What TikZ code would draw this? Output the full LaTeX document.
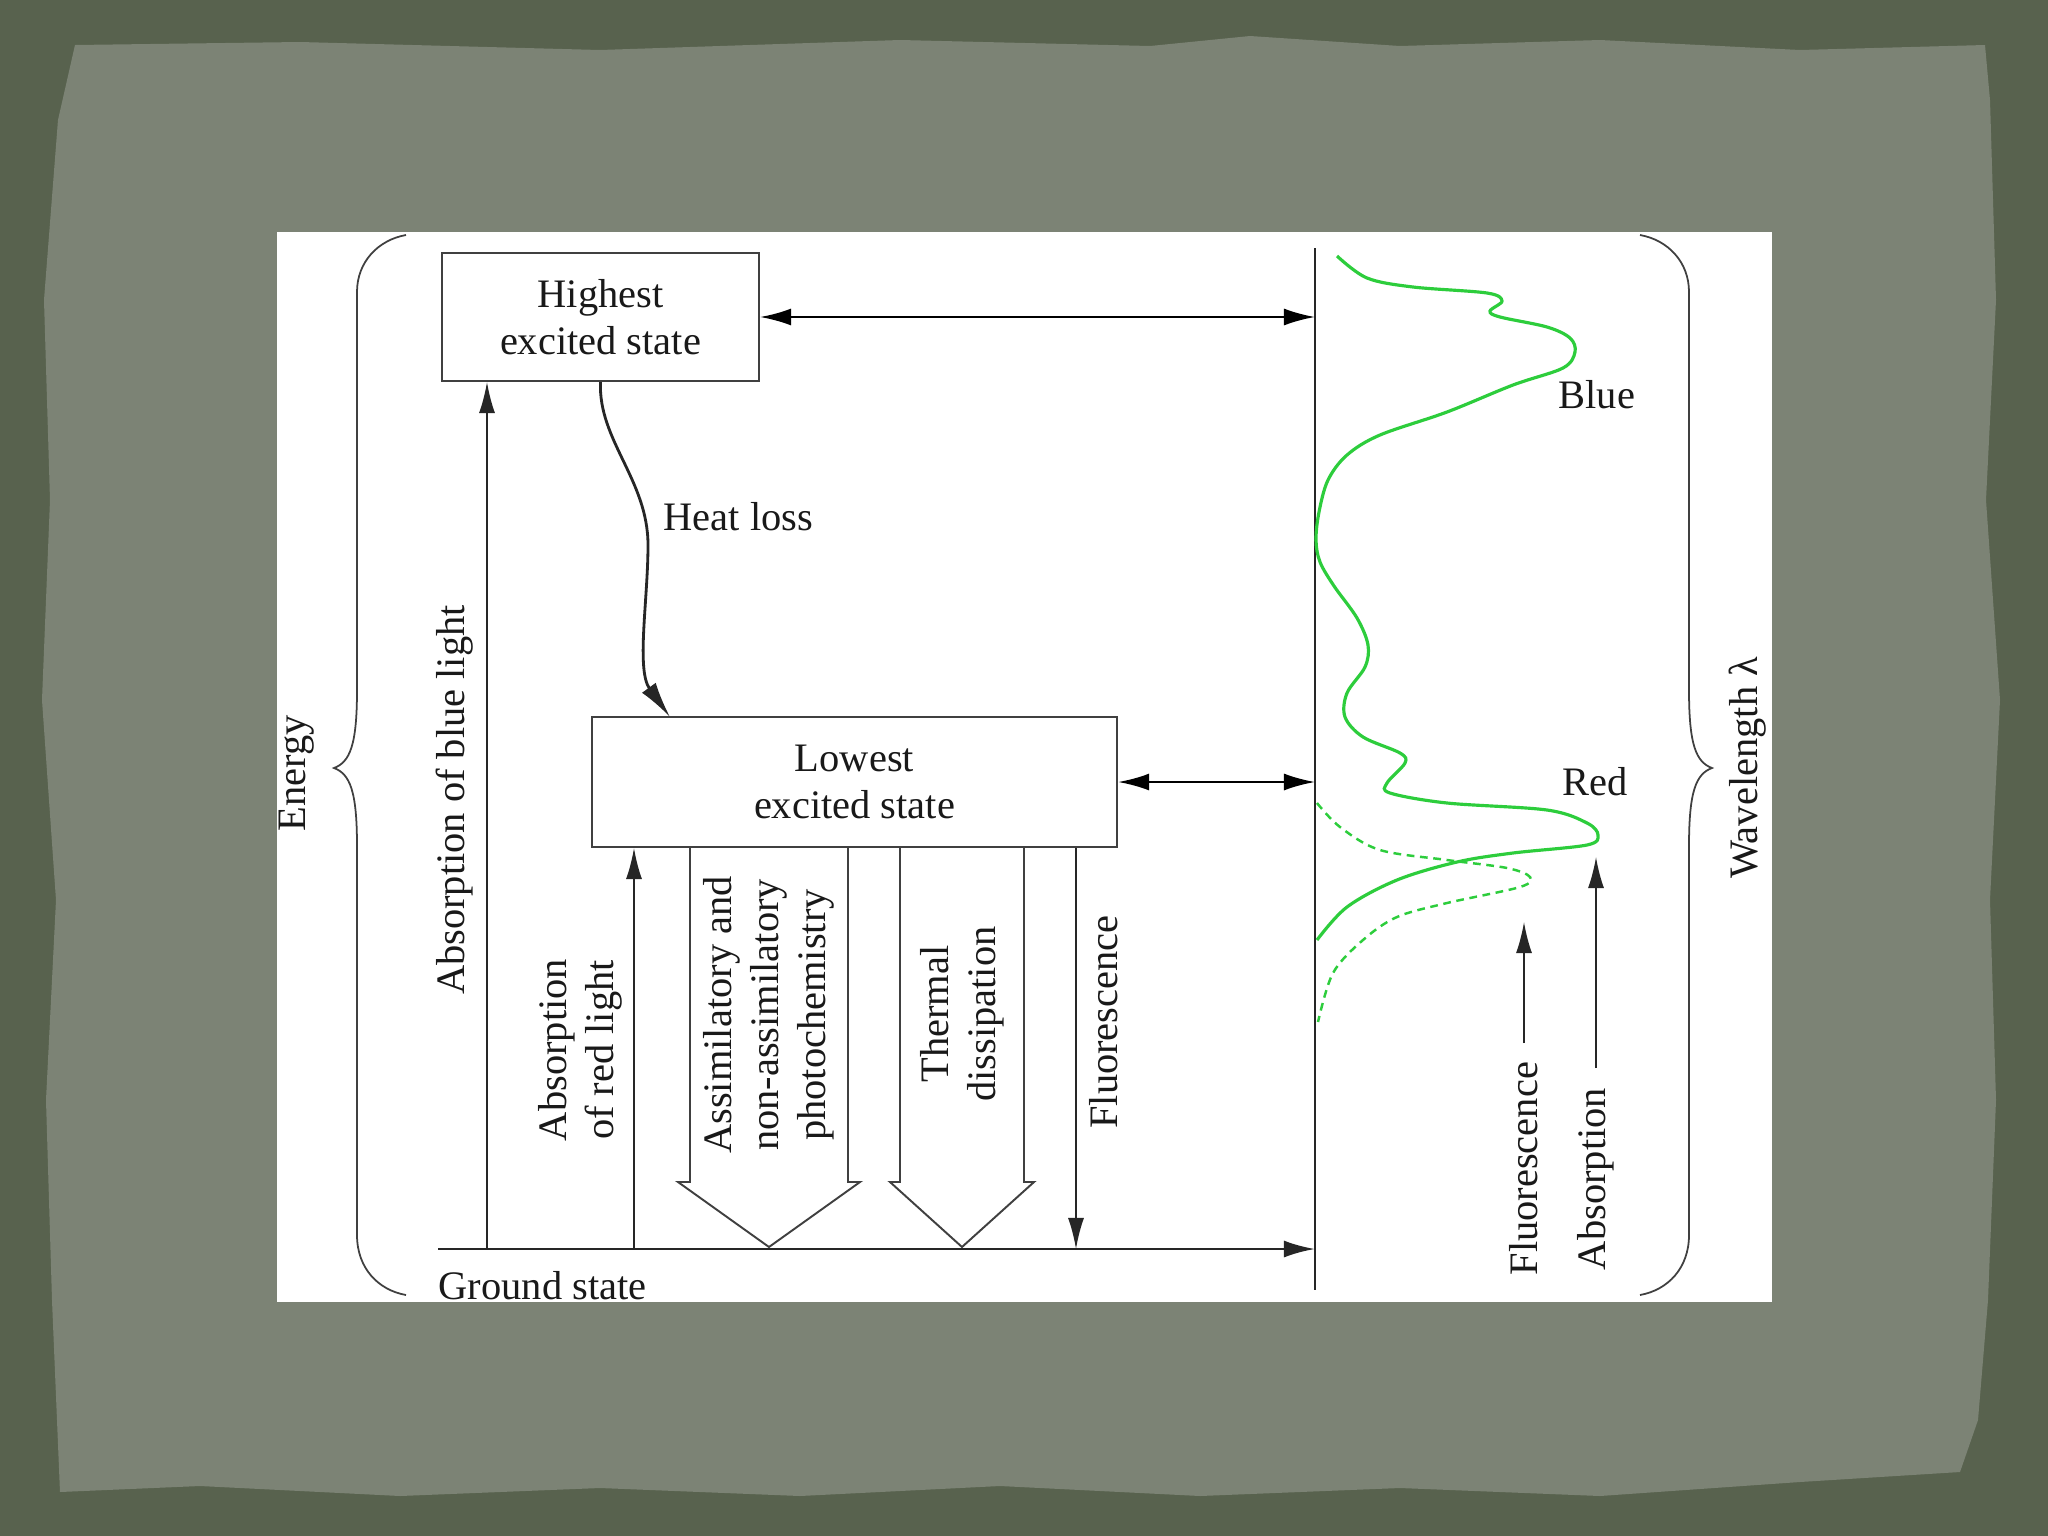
\documentclass[tikz,border=0pt]{standalone}
\usepackage{fontspec}
\setmainfont{Liberation Serif}
\usetikzlibrary{arrows.meta}
\definecolor{frame}{RGB}{88,98,78}
\definecolor{paper}{RGB}{124,131,117}
\definecolor{specgreen}{RGB}{45,205,60}
\newcommand{\lblfont}{\fontsize{11.5}{13.3}\selectfont}
\tikzset{
  lbl/.style={font=\lblfont, inner sep=0pt, text=black!90, align=center},
  statebox/.style={draw=black!75, line width=0.55pt, lbl},
  arr/.style={line width=0.5pt, draw=black!85, -{Latex[length=0.31cm,width=0.16cm]}},
  dbl/.style={line width=0.65pt, {Latex[length=0.31cm,width=0.17cm]}-{Latex[length=0.31cm,width=0.17cm]}},
  bigarrow/.style={line width=0.55pt, draw=black!75},
  brace/.style={line width=0.5pt, draw=black!75},
  spec/.style={line width=0.9pt, draw=specgreen},
}
\begin{document}
\begin{tikzpicture}[x=0.01cm, y=-0.01cm]
\useasboundingbox (0,0) rectangle (2048,1536);
% background frame and paper
\fill[frame] (0,0) rectangle (2048,1536);
\fill[paper] (75,45) -- (300,42) -- (600,50) -- (900,40) -- (1150,46) -- (1250,36) -- (1400,46) -- (1600,40) -- (1800,50) -- (1985,45)
  -- (1990,100) -- (1996,300) -- (1986,500) -- (2000,700) -- (1990,900) -- (1996,1100) -- (1988,1300) -- (1978,1420)
  -- (1960,1472) -- (1800,1482) -- (1600,1496) -- (1400,1488) -- (1200,1496) -- (1000,1486) -- (800,1496) -- (600,1488) -- (400,1496) -- (200,1486) -- (60,1492)
  -- (52,1300) -- (46,1100) -- (56,900) -- (42,700) -- (50,500) -- (44,300) -- (58,120) -- cycle;
% white panel
\fill[white] (277,232) rectangle (1772,1302);
\begin{scope}
\clip (277,232) rectangle (1772,1302);

% braces
\draw[brace] (406,235) .. controls (378,240) and (357,262) .. (357,292) -- (357,690)
  .. controls (357,745) and (350,762) .. (334,768)
  .. controls (350,774) and (357,791) .. (357,846) -- (357,1235)
  .. controls (357,1268) and (378,1290) .. (406,1295);
\draw[brace] (1640,235) .. controls (1668,240) and (1689,262) .. (1689,292) -- (1689,690)
  .. controls (1689,745) and (1696,762) .. (1712,768)
  .. controls (1696,774) and (1689,791) .. (1689,846) -- (1689,1235)
  .. controls (1689,1268) and (1668,1290) .. (1640,1295);
\node[lbl, rotate=90] (energy) at (297,773) {Energy};
\node[lbl, rotate=90] (wave) at (1748,768) {Wavelength λ};

% states
\node[statebox, minimum width=3.17cm, minimum height=1.28cm] (hi) at (600.5,317) {Highest\\excited state};
\node[statebox, minimum width=5.25cm, minimum height=1.30cm] (lo) at (854.5,782) {Lowest\\excited state};

% spectrum axis and ground level
\coordinate (axtop) at (1315,248);
\coordinate (axbot) at (1315,1290);
\draw[line width=0.8pt, black!85] (axtop) -- (axbot);
\coordinate (g0) at (438,1249);
\draw[line width=0.8pt, black!85, -{Latex[length=0.31cm,width=0.17cm]}] (g0) -- (g0 -| axtop);
\node[lbl, anchor=base west] (ground) at (438,1299) {Ground state};

% double arrows to spectrum
\draw[dbl] (hi.east) -- (hi.east -| axtop);
\draw[dbl] (lo.east) -- (lo.east -| axtop);

% heat loss
\coordinate (heatend) at (670,717);
\draw[line width=0.8pt, black!85, -{Latex[length=0.36cm,width=0.17cm]}] (hi.south) .. controls (598,440) and (648,480) .. (648,545)
  .. controls (648,600) and (636,670) .. (heatend);
\node[lbl, anchor=base west] (heat) at (663,530) {Heat loss};

% absorption of blue light
\coordinate (bl) at (487,1249);
\draw[arr] (bl) -- (bl |- hi.south);
\node[lbl, rotate=90] (bluelbl) at (455,800) {Absorption of blue light};

% absorption of red light
\coordinate (rl) at (634,1249);
\draw[arr] (rl) -- (rl |- lo.south);
\node[lbl, rotate=90] (redlbl) at (580,1050) {Absorption\\of red light};

% photochemistry big arrow
\draw[bigarrow] (690,847) -- (690,1182) -- (678,1182) -- (769,1247) -- (860,1182) -- (848,1182) -- (848,847);
\node[lbl, rotate=90] (photo) at (769,1015) {Assimilatory and\\non-assimilatory\\photochemistry};

% thermal dissipation big arrow
\draw[bigarrow] (900,847) -- (900,1182) -- (890,1182) -- (962,1247) -- (1034,1182) -- (1024,1182) -- (1024,847);
\node[lbl, rotate=90] (thermal) at (962,1014) {Thermal\\dissipation};

% fluorescence
\coordinate (fl) at (1076,1249);
\draw[arr] (fl |- lo.south) -- (fl);
\node[lbl, rotate=90] (fluolbl) at (1104,1022) {Fluorescence};

% spectra
\draw[spec] plot[smooth, tension=0.55] coordinates {
 (1337,256) (1367,278) (1413,287) (1487,293) (1502,301) (1490,311) (1500,317) (1547,327) (1570,338) (1575,352)
 (1563,368) (1513,385) (1447,412) (1380,435) (1347,455) (1328,480) (1319,512) (1316,540) (1320,562) (1334,586) (1357,618)
 (1368,645) (1365,667) (1347,693) (1345,717) (1363,737) (1400,753) (1405,763) (1387,783) (1390,793) (1447,803)
 (1547,810) (1587,823) (1598,835) (1587,845) (1513,853) (1457,862) (1397,880) (1347,907) (1317,940)};
\draw[spec, line width=0.7pt, dash pattern=on 2.2pt off 1.6pt] plot[smooth, tension=0.55] coordinates {
 (1317,803) (1340,827) (1380,850) (1447,860) (1507,868) (1530,877) (1520,887) (1447,903) (1397,917) (1363,940) (1333,973) (1318,1022)};
\node[lbl, anchor=base west] (bluetxt) at (1558,408) {Blue};
\node[lbl, anchor=base west] (redtxt) at (1562,795) {Red};

% right labels with arrows
\node[lbl, rotate=90, anchor=east, outer sep=0.19cm] (fr) at (1524,1043) {Fluorescence};
\coordinate (frtip) at (1524,922);
\draw[arr] (fr.east) -- (frtip);
\node[lbl, rotate=90, anchor=east, outer sep=0.2cm] (ab) at (1596,1068) {Absorption};
\coordinate (abtip) at (1596,857);
\draw[arr] (ab.east) -- (abtip);
\end{scope}
\end{tikzpicture}
\end{document}
